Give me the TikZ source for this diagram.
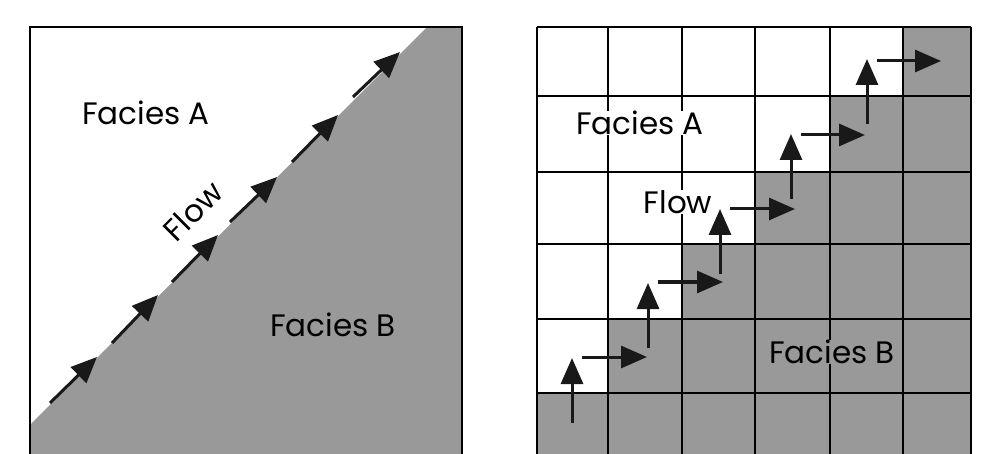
\documentclass[tikz,border=0pt]{standalone}
\usepackage{fontspec}
\setmainfont{Poppins}
\usetikzlibrary{arrows.meta}
\definecolor{fg}{HTML}{999999}
\begin{document}
\begin{tikzpicture}[x=1pt,y=-1pt,
  flow/.style={line width=3pt,-{Triangle[length=26pt,width=22pt]},draw=black!90},
  lbl/.style={font=\fontsize{31}{31}\selectfont,inner sep=0.5pt},
  grid/.style={line width=1.5pt}]
\useasboundingbox (0,0) rectangle (982,454);
% left panel
\fill[fg] (30,425) -- (427,27) -- (462,27) -- (462,460) -- (30,460) -- cycle;
\draw[line width=1.5pt] (30,460) -- (30,27) -- (462,27) -- (462,460);
\coordinate (l1a) at (50,403); \coordinate (l1b) at (97,357);
\coordinate (l2a) at (112,343); \coordinate (l2b) at (158,295);
\coordinate (l3a) at (172,282); \coordinate (l3b) at (218,235);
\coordinate (l4a) at (230,222); \coordinate (l4b) at (277,177);
\coordinate (l5a) at (292,162); \coordinate (l5b) at (338,115);
\coordinate (l6a) at (353,97); \coordinate (l6b) at (400,52);
\foreach \i in {1,...,6} \draw[flow] (l\i a) -- (l\i b);
\node[lbl] (fa) at (146,113) {Facies A};
\node[lbl] (fb) at (333,325) {Facies B};
\node[lbl,rotate=45] (fl) at (193,211) {Flow};
% right panel
\fill[fg] (537,460) -- (537,393) -- (608,393) -- (608,319) -- (682,319) -- (682,244)
  -- (755,244) -- (755,172) -- (830,172) -- (830,96) -- (903,96) -- (903,27) -- (971,27) -- (971,460) -- cycle;
\foreach \x in {537,608,682,755,830,903,971} \draw[grid] (\x,27) -- (\x,460);
\foreach \y in {27,96,172,244,319,393} \draw[grid] (537,\y) -- (971,\y);
\node[lbl,fill=white] (ra) at (640,123) {Facies A};
\node[lbl,fill=white] (rf) at (678,202) {Flow};
\node[lbl,fill=fg] (rb) at (832,352) {Facies B};
\coordinate (u1a) at (572,423); \coordinate (u1b) at (572,358);
\coordinate (r1a) at (582,357); \coordinate (r1b) at (647,357);
\coordinate (u2a) at (648,348); \coordinate (u2b) at (648,283);
\coordinate (r2a) at (658,282); \coordinate (r2b) at (723,282);
\coordinate (u3a) at (720,274); \coordinate (u3b) at (720,209);
\coordinate (r3a) at (730,209); \coordinate (r3b) at (795,209);
\coordinate (u4a) at (791,199); \coordinate (u4b) at (791,134);
\coordinate (r4a) at (801,135); \coordinate (r4b) at (865,135);
\coordinate (u5a) at (867,124); \coordinate (u5b) at (867,59);
\coordinate (r5a) at (877,61); \coordinate (r5b) at (941,61);
\foreach \i in {1,...,5} {\draw[flow] (u\i a) -- (u\i b); \draw[flow] (r\i a) -- (r\i b);}
\end{tikzpicture}
\end{document}
